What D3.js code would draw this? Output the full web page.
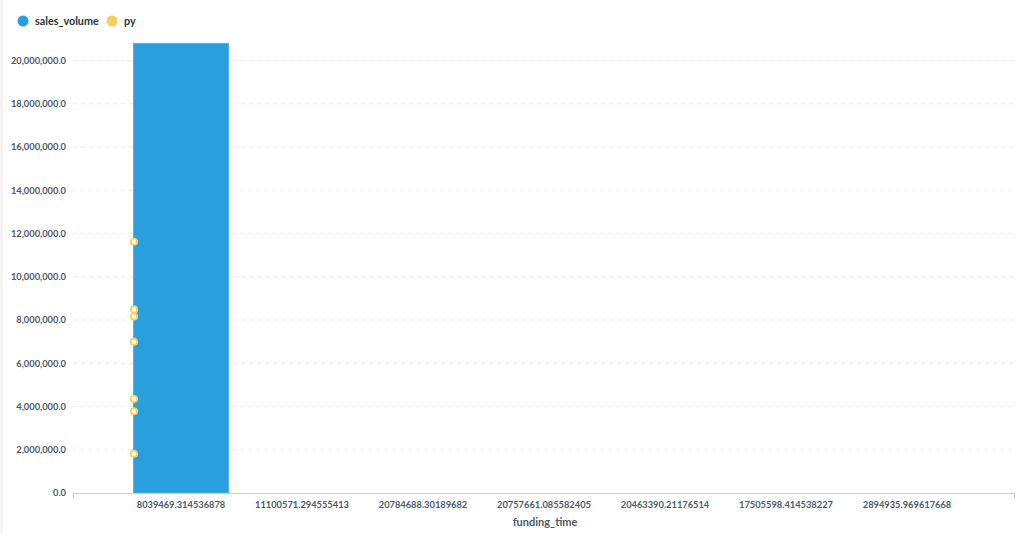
<!DOCTYPE html>
<html>
<head>
<meta charset="utf-8">
<script src="https://cdn.jsdelivr.net/npm/d3@7"></script>
<style>
  body { margin: 0; background: #fff; font-family: Lato, "Open Sans", sans-serif; }
  #chart { position: absolute; left: 0; top: 0; width: 1024px; height: 538px; }
</style>
</head>
<body>
<div id="chart"></div>
<script>
// x categories (funding_time)
const categories = ["8039469.314536878", "11100571.294555413", "20784688.30189682",
  "20757661.085582405", "20463390.21176514", "17505598.414538227", "2894935.969617668"];
// sales_volume bars, only the first category has a value
const salesVolume = [20790000, null, null, null, null, null, null];
// py points, all sit on the first category
const pyValues = [11620000, 8490000, 8160000, 6990000, 4350000, 3780000, 1810000];
const yTicks = [0, 2000000, 4000000, 6000000, 8000000, 10000000, 12000000, 14000000, 16000000, 18000000, 20000000];

const W = 1024, H = 538;
const margin = {top: 0, left: 73, right: 9, bottom: 45};
const plotBottom = 493;

const svg = d3.select("#chart").append("svg")
  .attr("width", W).attr("height", H);

// faint frame on the left
svg.append("line")
  .attr("x1", 1.5).attr("x2", 1.5).attr("y1", 0).attr("y2", 535)
  .attr("stroke", "#f0f0f0").attr("stroke-width", 2);

const x = d3.scaleBand()
  .domain(categories)
  .range([margin.left, W - margin.right])
  .paddingInner(0.215)
  .paddingOuter(0.5);

const y = d3.scaleLinear()
  .domain([0, 20000000])
  .range([plotBottom, 60.5]);

// grid
svg.append("g")
  .selectAll("line")
  .data(yTicks.filter(d => d > 0))
  .join("line")
  .attr("x1", margin.left).attr("x2", W - margin.right)
  .attr("y1", d => y(d)).attr("y2", d => y(d))
  .attr("stroke", "#ececec")
  .attr("stroke-dasharray", "4,4");

// y labels
svg.append("g")
  .selectAll("text")
  .data(yTicks)
  .join("text")
  .attr("x", 66)
  .attr("y", d => y(d))
  .attr("dy", "0.35em")
  .attr("text-anchor", "end")
  .attr("font-size", 9.3)
  .attr("font-weight", 700)
  .attr("fill", "#4c5b6b")
  .text(d => d3.format(",.1f")(d));

// bars
svg.append("g")
  .selectAll("rect")
  .data(categories.map((c, i) => ({c, v: salesVolume[i]})).filter(d => d.v != null))
  .join("rect")
  .attr("x", d => x(d.c))
  .attr("width", x.bandwidth())
  .attr("y", d => y(d.v))
  .attr("height", d => plotBottom - y(d.v))
  .attr("fill", "#2a9fde")
  .attr("stroke", "#51b3e6")
  .attr("stroke-width", 1);

// x axis line
const axis = svg.append("g");
axis.append("path")
  .attr("d", `M${margin.left + 0.5},${plotBottom + 5}V${plotBottom + 0.5}H${W - margin.right - 0.5}V${plotBottom + 5}`)
  .attr("fill", "none")
  .attr("stroke", "#c7ced6");

axis.selectAll("text")
  .data(categories)
  .join("text")
  .attr("x", d => x(d) + x.bandwidth() / 2)
  .attr("y", 508)
  .attr("text-anchor", "middle")
  .attr("font-size", 9.3)
  .attr("font-weight", 700)
  .attr("fill", "#4c5b6b")
  .text(d => d);

svg.append("text")
  .attr("x", 545)
  .attr("y", 526)
  .attr("text-anchor", "middle")
  .attr("font-size", 11)
  .attr("font-weight", 700)
  .attr("fill", "#4c5b6b")
  .text("funding_time");

// py points, drawn at the start of the first band
svg.append("g")
  .selectAll("circle")
  .data(pyValues)
  .join("circle")
  .attr("cx", x(categories[0]) + 0.5)
  .attr("cy", d => y(d))
  .attr("r", 3.2)
  .attr("fill", "#fff")
  .attr("stroke", "#f9cf5b")
  .attr("stroke-width", 1.7);

// legend
const legend = [
  {name: "sales_volume", color: "#2a9fde", x: 23},
  {name: "py", color: "#f9cf5b", x: 112}
];
const lg = svg.append("g").selectAll("g").data(legend).join("g")
  .attr("transform", d => `translate(${d.x},21)`);
lg.append("circle").attr("r", 5.5).attr("fill", d => d.color);
lg.append("text")
  .attr("x", 12).attr("dy", "0.35em")
  .attr("font-size", 10.8).attr("font-weight", 700)
  .attr("fill", "#2e353b")
  .text(d => d.name);
</script>
</body>
</html>
